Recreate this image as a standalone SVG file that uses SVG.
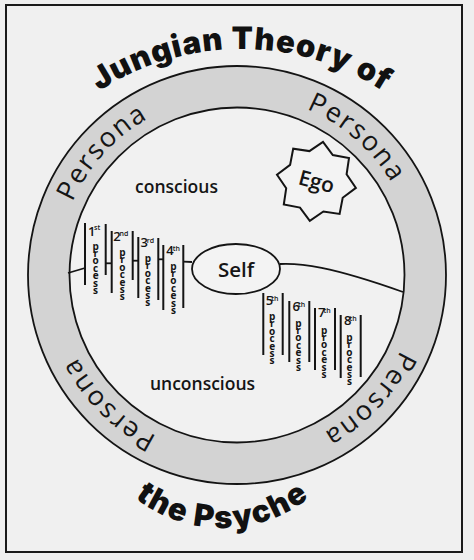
<svg xmlns="http://www.w3.org/2000/svg" width="474" height="560" viewBox="0 0 474 560">
<style>
.ln{stroke:#141414;stroke-width:1.8;fill:none}
.bar{stroke:#141414;stroke-width:2;fill:none}
.title{font-family:"Inter","Lato","DejaVu Sans",sans-serif;font-weight:900;font-size:31px;fill:#111}
.ring{font-family:"Open Sans","DejaVu Sans",sans-serif;font-weight:400;font-size:27px;fill:#151515}
.lbl{font-family:"Open Sans","DejaVu Sans",sans-serif;font-weight:600;fill:#151515}
.num{font-family:"Open Sans","DejaVu Sans",sans-serif;font-weight:600;font-size:13px;fill:#151515}
.sup{font-family:"Open Sans","DejaVu Sans",sans-serif;font-weight:600;font-size:7px;fill:#151515}
.pr{font-family:"Open Sans","DejaVu Sans",sans-serif;font-weight:700;font-size:10px;fill:#151515;writing-mode:vertical-rl;text-orientation:upright;letter-spacing:-6.6px}
</style>
<defs>
<path id="titleArc" d="M15,179.5 A261,261 0 0 1 467,179.5"/>
<path id="psyArc" d="M90.4,435.9 A140,140 0 0 0 353.6,435.9"/>
<path id="ringArc" d="M57,275 A180,180 0 1 1 417,275 A180,180 0 1 1 57,275"/>
</defs>
<rect x="0" y="0" width="474" height="560" fill="#efefef"/>
<rect x="6" y="5" width="456" height="547" fill="#f0f0f0" stroke="#1a1a1a" stroke-width="2"/>

<g id="persona-ring">
<circle cx="237" cy="275" r="209" fill="#d3d3d3" stroke="#141414" stroke-width="1.8"/>
<circle cx="237" cy="275" r="167.5" fill="#f1f1f1" stroke="#141414" stroke-width="1.8"/>
<text class="ring"><textPath href="#ringArc" startOffset="132" text-anchor="middle" textLength="114" lengthAdjust="spacing">Persona</textPath></text>
<text class="ring"><textPath href="#ringArc" startOffset="411" text-anchor="middle" textLength="114" lengthAdjust="spacing">Persona</textPath></text>
<text class="ring"><textPath href="#ringArc" startOffset="700" text-anchor="middle" textLength="114" lengthAdjust="spacing">Persona</textPath></text>
<text class="ring"><textPath href="#ringArc" startOffset="988" text-anchor="middle" textLength="114" lengthAdjust="spacing">Persona</textPath></text>
</g>

<g id="title">
<text class="title"><textPath href="#titleArc" startOffset="50%" text-anchor="middle" textLength="300" lengthAdjust="spacing">Jungian Theory of</textPath></text>
<text class="title"><textPath href="#psyArc" startOffset="50%" text-anchor="middle" textLength="188" lengthAdjust="spacing">the Psyche</textPath></text>
</g>

<g id="connectors">
<path class="ln" d="M68,273 L85,268"/>
<path class="ln" d="M105.7,263.3 L111.7,263.3"/>
<path class="ln" d="M132.7,260.7 L138.3,260.7"/>
<path class="ln" d="M158.3,259.3 L163.3,259.3"/>
<path class="ln" d="M183.3,261.7 L192,262"/>
<path class="ln" d="M280,264 C300,263 330,266 403,292"/>
</g>

<g id="conscious"><text class="lbl" x="176.5" y="193" font-size="17.5" text-anchor="middle">conscious</text></g>
<g id="unconscious"><text class="lbl" x="202.5" y="390" font-size="17.5" text-anchor="middle">unconscious</text></g>

<g id="ego">
<polygon points="355.9,187.9 342.7,197.7 339.6,213.9 323.4,211.5 309.8,220.8 300,207.6 283.8,204.5 286.2,188.3 277,174.7 290.1,164.9 293.2,148.7 309.4,151.1 323,141.8 332.8,155 349,158.1 346.6,174.3" fill="#f3f3f3" stroke="#141414" stroke-width="2" stroke-linejoin="miter"/>
<text class="lbl" x="316.5" y="189" font-size="21" text-anchor="middle" transform="rotate(15 316.5 182)">Ego</text>
</g>

<g id="self">
<ellipse cx="236" cy="269" rx="44" ry="25" fill="#f3f3f3" stroke="#141414" stroke-width="1.8"/>
<text class="lbl" x="236" y="276.5" font-size="20.5" text-anchor="middle">Self</text>
</g>

<g id="process1">
<path class="bar" d="M85,223 V285 M105.7,224 V275"/>
<text class="num" x="88" y="236">1</text><text class="sup" x="94" y="230">st</text>
<text class="pr" x="95.5" y="238.5">process</text>
</g>
<g id="process2">
<path class="bar" d="M111.7,231 V293 M132.7,231 V280"/>
<text class="num" x="113.3" y="240.7">2</text><text class="sup" x="119.5" y="236">nd</text>
<text class="pr" x="122.2" y="245">process</text>
</g>
<g id="process3">
<path class="bar" d="M138.3,237 V298 M158.3,238 V300"/>
<text class="num" x="140.5" y="247.3">3</text><text class="sup" x="146.7" y="243">rd</text>
<text class="pr" x="147.7" y="251">process</text>
</g>
<g id="process4">
<path class="bar" d="M163.3,245 V310 M183.3,245 V308"/>
<text class="num" x="166.3" y="255">4</text><text class="sup" x="172.7" y="251">th</text>
<text class="pr" x="173.3" y="258.5">process</text>
</g>
<g id="process5">
<path class="bar" d="M263.3,293 V355 M282.7,293 V355"/>
<text class="num" x="265.7" y="305">5</text><text class="sup" x="271.3" y="301">th</text>
<text class="pr" x="272" y="309">process</text>
</g>
<g id="process6">
<path class="bar" d="M289.3,301 V362 M309.3,301 V362"/>
<text class="num" x="292.4" y="310.7">6</text><text class="sup" x="298" y="306.7">th</text>
<text class="pr" x="298.3" y="315.5">process</text>
</g>
<g id="process7">
<path class="bar" d="M315,308 V370 M335,308 V370"/>
<text class="num" x="318" y="317.3">7</text><text class="sup" x="323.5" y="313.3">th</text>
<text class="pr" x="324" y="322.5">process</text>
</g>
<g id="process8">
<path class="bar" d="M340.7,315 V378 M360.7,315 V377"/>
<text class="num" x="344" y="325">8</text><text class="sup" x="349.6" y="321">th</text>
<text class="pr" x="349.3" y="330">process</text>
</g>
</svg>
